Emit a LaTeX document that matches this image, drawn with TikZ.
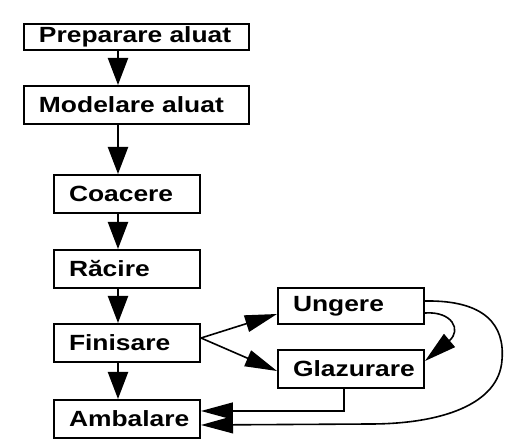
\documentclass[tikz,border=0pt]{standalone}
\usepackage{fontspec}
\newfontfamily\flowfont{Liberation Sans}[FakeStretch=1.2]
\usetikzlibrary{arrows.meta,calc}

\begin{document}
\begin{tikzpicture}[
  x=0.5pt, y=-0.5pt,
  stage/.style={draw, line width=1pt, anchor=north west, align=left,
    text width=#1, inner xsep=7.5pt, inner ysep=0pt,
    font=\flowfont\bfseries\fontsize{11}{13}\selectfont},
  down/.style={-{Triangle[length=13.5pt,width=10pt]}, line width=1.1pt},
  side/.style={-{Triangle[length=16pt,width=8.5pt]}, line width=0.8pt}
]
\useasboundingbox (0,0) rectangle (516,444);

% ── main line ────────────────────────────────────────────────────────────
\node[stage=97.5pt, minimum height=13pt] (prep) at (23,23) {Preparare aluat};
\node[stage=97.5pt, minimum height=19pt] (model) at (23,85) {Modelare aluat};
\node[stage=58pt, minimum height=19pt] (coac) at (53,174) {Coacere};
\node[stage=58pt, minimum height=19pt] (racire) at (53,249) {Răcire};
\node[stage=58pt, minimum height=19pt] (finis) at (53,323) {Finisare};
\node[stage=58pt, minimum height=19pt] (ambal) at (53,399) {Ambalare};
\coordinate (spine) at (118,0);

\draw[down] (spine |- prep.south) -- (spine |- model.north);
\draw[down] (spine |- model.south) -- (spine |- coac.north);
\draw[down] (spine |- coac.south) -- (spine |- racire.north);
\draw[down] (spine |- racire.south) -- (spine |- finis.north);
\draw[down] (spine |- finis.south) -- (spine |- ambal.north);

% ── side branch ──────────────────────────────────────────────────────────
\node[stage=58pt, minimum height=18pt] (ungere) at (277,287) {Ungere};
\node[stage=58pt, minimum height=19pt] (glaz) at (277,349) {Glazurare};

\draw[side] ([yshift=2.5pt]finis.east) -- ([yshift=-4pt]ungere.west);
\draw[side] ([yshift=2.5pt]finis.east) -- ([yshift=-1pt]glaz.west);
\draw[side] ([yshift=-3.5pt]ungere.east) .. controls (452,311) and (462,330) .. ([yshift=4pt]glaz.east);
\draw[side] ([xshift=-3.5pt]glaz.south) |- ([yshift=4pt]ambal.east);
\draw[side] ([yshift=2.5pt]ungere.east) .. controls (485,300) and (505,325) .. (502,360)
  .. controls (499,405) and (440,424) .. (370,424) -- ([yshift=-3pt]ambal.east);

\end{tikzpicture}
\end{document}
